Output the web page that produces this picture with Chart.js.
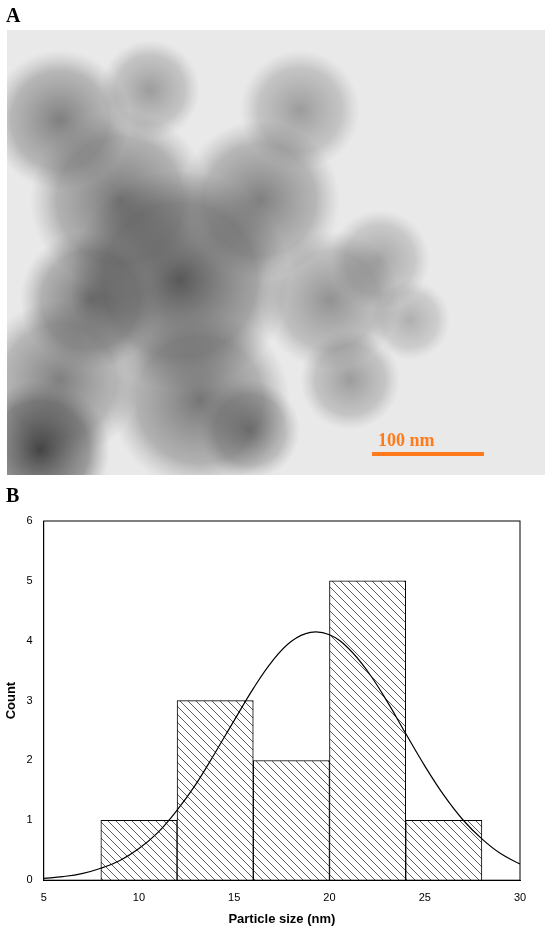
<!DOCTYPE html>
<html><head><meta charset="utf-8">
<script src="https://cdn.jsdelivr.net/npm/chart.js@4"></script>
<style>
body{margin:0;background:#fff;width:550px;height:935px;position:relative;overflow:hidden;font-family:"Liberation Serif",serif}
#tem{position:absolute;left:0;top:0}
.lab{position:absolute;font-weight:bold;font-size:20px;font-family:"Liberation Serif",serif}
#wrap{position:absolute;left:0;top:505px;width:550px;height:430px}
</style></head><body>
<canvas id="tem" width="550" height="480"></canvas>
<div class="lab" style="left:6px;top:4px">A</div>
<div class="lab" style="left:6px;top:484px">B</div>
<div id="wrap"><canvas id="c"></canvas></div>
<script>
const binCenters=[10,14,18,22,26];
const counts=[1,3,2,5,1];
const fitX=[5,6,7,8,9,10,11,12,13,14,15,16,17,18,19,20,21,22,23,24,25,26,27,28,29,30];
const fitY=[0.03,0.06,0.11,0.2,0.33,0.53,0.8,1.17,1.61,2.13,2.67,3.2,3.66,3.99,4.14,4.1,3.87,3.49,3.0,2.45,1.91,1.42,1.01,0.69,0.44,0.27];
const yTicks=[0,1,2,3,4,5,6];

(function(){
 const t=document.getElementById('tem').getContext('2d');
 t.fillStyle='#e9e9e9';t.fillRect(7,30,538,445);
 t.save();t.beginPath();t.rect(7,30,538,445);t.clip();
 const blobs=[[60,120,70,0.55],[180,280,110,0.75],[120,200,90,0.6],[260,200,80,0.55],[330,300,70,0.45],[60,380,80,0.55],[40,450,70,0.85],[200,400,90,0.6],[380,260,50,0.35],[410,320,40,0.3],[300,110,60,0.4],[150,90,50,0.4],[250,430,50,0.5],[90,300,70,0.6],[350,380,50,0.4]];
 blobs.forEach(([x,y,r,a])=>{const g=t.createRadialGradient(x,y,0,x,y,r);g.addColorStop(0,`rgba(40,40,40,${a})`);g.addColorStop(0.7,`rgba(80,80,80,${a*0.6})`);g.addColorStop(1,'rgba(120,120,120,0)');t.fillStyle=g;t.beginPath();t.arc(x,y,r,0,7);t.fill();});
 t.restore();
 t.strokeStyle='#ff7a1a';t.lineWidth=4;t.beginPath();t.moveTo(372,454);t.lineTo(484,454);t.stroke();
 t.fillStyle='#ff7a1a';t.font='bold 18px "Liberation Serif"';t.fillText('100 nm',378,446);
})();

const pc=document.createElement('canvas');pc.width=8;pc.height=8;
const p=pc.getContext('2d');p.fillStyle='#fff';p.fillRect(0,0,8,8);p.strokeStyle='#333';p.lineWidth=0.8;
p.beginPath();p.moveTo(-2,-2);p.lineTo(10,10);p.moveTo(-2,6);p.lineTo(2,10);p.moveTo(6,-2);p.lineTo(10,2);p.stroke();
const hatch=p.createPattern(pc,'repeat');

const frame={id:'frame',afterDraw(c){const a=c.chartArea,x=c.ctx;x.save();x.strokeStyle='#000';x.lineWidth=1;x.strokeRect(a.left,a.top,a.right-a.left,a.bottom-a.top);x.restore();}};
Chart.defaults.font.family='Arial, "Liberation Sans"';
new Chart(document.getElementById('c'),{
 data:{datasets:[
  {type:'line',data:fitX.map((x,i)=>({x,y:fitY[i]})),borderColor:'#000',borderWidth:1.2,pointRadius:0,tension:0.4,order:0},
  {type:'bar',data:binCenters.map((x,i)=>({x,y:counts[i]})),backgroundColor:hatch,borderColor:'#000',borderWidth:1,barPercentage:1,categoryPercentage:1,order:1}
 ]},
 options:{responsive:true,maintainAspectRatio:false,animation:false,
  layout:{padding:{left:0,right:30,top:16,bottom:4}},
  plugins:{legend:{display:false},tooltip:{enabled:false}},
  scales:{
   x:{type:'linear',offset:false,min:5,max:30,ticks:{stepSize:5,color:'#000',font:{size:11}},grid:{display:false,offset:false},border:{color:'#000'},
      title:{display:true,text:'Particle size (nm)',color:'#000',font:{size:13,weight:'bold'}}},
   y:{min:0,max:6,afterBuildTicks:s=>{s.ticks=yTicks.map(v=>({value:v}));},ticks:{color:'#000',font:{size:11}},grid:{display:false},border:{color:'#000'},
      title:{display:true,text:'Count',color:'#000',font:{size:13,weight:'bold'}}}
  }},
 plugins:[frame]
});
</script></body></html>
